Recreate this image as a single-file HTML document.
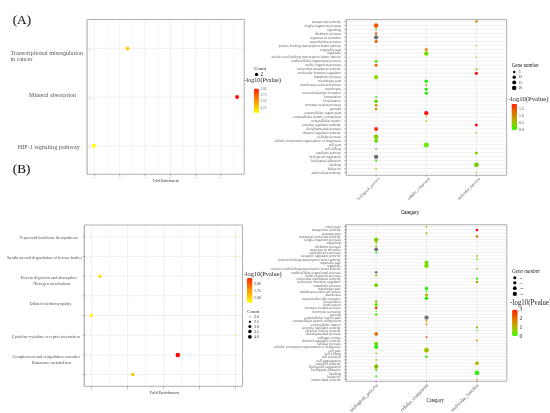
<!DOCTYPE html>
<html><head><meta charset="utf-8"><title>Figure</title>
<style>html,body{margin:0;padding:0;background:#fff;} svg{display:block;}</style>
</head><body>
<svg width="550" height="413" viewBox="0 0 550 413">
<rect width="550" height="413" fill="#fff"/>
<text x="12.70" y="24.00" font-size="12.9" text-anchor="start" fill="#111" font-family="'Liberation Serif', serif" textLength="18.40" lengthAdjust="spacingAndGlyphs" stroke="#222" stroke-width="0.1">(A)</text>
<text x="12.80" y="173.20" font-size="12.9" text-anchor="start" fill="#111" font-family="'Liberation Serif', serif" textLength="17.50" lengthAdjust="spacingAndGlyphs" stroke="#222" stroke-width="0.1">(B)</text>
<line x1="107.10" y1="19.50" x2="107.10" y2="174.30" stroke="#f1f1f1" stroke-width="0.6"/>
<line x1="132.43" y1="19.50" x2="132.43" y2="174.30" stroke="#f1f1f1" stroke-width="0.6"/>
<line x1="157.76" y1="19.50" x2="157.76" y2="174.30" stroke="#f1f1f1" stroke-width="0.6"/>
<line x1="183.09" y1="19.50" x2="183.09" y2="174.30" stroke="#f1f1f1" stroke-width="0.6"/>
<line x1="208.42" y1="19.50" x2="208.42" y2="174.30" stroke="#f1f1f1" stroke-width="0.6"/>
<line x1="233.75" y1="19.50" x2="233.75" y2="174.30" stroke="#f1f1f1" stroke-width="0.6"/>
<line x1="94.40" y1="19.50" x2="94.40" y2="174.30" stroke="#eaeaea" stroke-width="0.7"/>
<line x1="119.73" y1="19.50" x2="119.73" y2="174.30" stroke="#eaeaea" stroke-width="0.7"/>
<line x1="145.06" y1="19.50" x2="145.06" y2="174.30" stroke="#eaeaea" stroke-width="0.7"/>
<line x1="170.39" y1="19.50" x2="170.39" y2="174.30" stroke="#eaeaea" stroke-width="0.7"/>
<line x1="195.72" y1="19.50" x2="195.72" y2="174.30" stroke="#eaeaea" stroke-width="0.7"/>
<line x1="221.05" y1="19.50" x2="221.05" y2="174.30" stroke="#eaeaea" stroke-width="0.7"/>
<line x1="87.10" y1="48.40" x2="244.20" y2="48.40" stroke="#eaeaea" stroke-width="0.7"/>
<line x1="87.10" y1="97.00" x2="244.20" y2="97.00" stroke="#eaeaea" stroke-width="0.7"/>
<line x1="87.10" y1="145.90" x2="244.20" y2="145.90" stroke="#eaeaea" stroke-width="0.7"/>
<path d="M87.10 19.50 H244.20 V174.30 H87.10" fill="none" stroke="#a8a8a8" stroke-width="0.9"/>
<line x1="87.10" y1="19.05" x2="87.10" y2="174.75" stroke="#c8c8c8" stroke-width="1.7"/>
<line x1="89.20" y1="49.80" x2="90.60" y2="49.80" stroke="#888" stroke-width="0.5"/>
<line x1="89.20" y1="98.40" x2="90.60" y2="98.40" stroke="#888" stroke-width="0.5"/>
<line x1="89.20" y1="147.30" x2="90.60" y2="147.30" stroke="#888" stroke-width="0.5"/>
<line x1="94.40" y1="174.30" x2="94.40" y2="175.80" stroke="#777" stroke-width="0.6"/>
<text x="94.40" y="178.00" font-size="2.5" text-anchor="middle" fill="#888" font-family="'Liberation Serif', serif" >10</text>
<line x1="119.73" y1="174.30" x2="119.73" y2="175.80" stroke="#777" stroke-width="0.6"/>
<text x="119.73" y="178.00" font-size="2.5" text-anchor="middle" fill="#888" font-family="'Liberation Serif', serif" >20</text>
<line x1="145.06" y1="174.30" x2="145.06" y2="175.80" stroke="#777" stroke-width="0.6"/>
<text x="145.06" y="178.00" font-size="2.5" text-anchor="middle" fill="#888" font-family="'Liberation Serif', serif" >30</text>
<line x1="170.39" y1="174.30" x2="170.39" y2="175.80" stroke="#777" stroke-width="0.6"/>
<text x="170.39" y="178.00" font-size="2.5" text-anchor="middle" fill="#888" font-family="'Liberation Serif', serif" >40</text>
<line x1="195.72" y1="174.30" x2="195.72" y2="175.80" stroke="#777" stroke-width="0.6"/>
<text x="195.72" y="178.00" font-size="2.5" text-anchor="middle" fill="#888" font-family="'Liberation Serif', serif" >50</text>
<line x1="221.05" y1="174.30" x2="221.05" y2="175.80" stroke="#777" stroke-width="0.6"/>
<text x="221.05" y="178.00" font-size="2.5" text-anchor="middle" fill="#888" font-family="'Liberation Serif', serif" >60</text>
<text x="165.60" y="181.80" font-size="3.9" text-anchor="middle" fill="#333" font-family="'Liberation Serif', serif" textLength="26.20" lengthAdjust="spacingAndGlyphs" >Fold Enrichment</text>
<text x="10.40" y="54.50" font-size="6.6" text-anchor="start" fill="#555555" font-family="'Liberation Serif', serif" textLength="72.70" lengthAdjust="spacingAndGlyphs" >Transcriptional misregulation</text>
<text x="10.40" y="60.70" font-size="6.6" text-anchor="start" fill="#555555" font-family="'Liberation Serif', serif" textLength="22.10" lengthAdjust="spacingAndGlyphs" >in cancer</text>
<text x="29.00" y="96.80" font-size="6.6" text-anchor="start" fill="#555555" font-family="'Liberation Serif', serif" textLength="47.00" lengthAdjust="spacingAndGlyphs" >Mineral absorption</text>
<text x="17.80" y="148.60" font-size="6.6" text-anchor="start" fill="#555555" font-family="'Liberation Serif', serif" textLength="62.00" lengthAdjust="spacingAndGlyphs" >HIF-1 signaling pathway</text>
<circle cx="127.60" cy="48.40" r="1.85" fill="#ffcc00"/>
<circle cx="237.10" cy="97.00" r="1.95" fill="#ff0000"/>
<circle cx="93.90" cy="145.80" r="1.95" fill="#ffff00"/>
<text x="254.20" y="70.40" font-size="5.0" text-anchor="start" fill="#222" font-family="'Liberation Serif', serif" textLength="11.80" lengthAdjust="spacingAndGlyphs" >Count</text>
<circle cx="256.50" cy="74.50" r="1.70" fill="#000"/>
<text x="260.50" y="76.40" font-size="5.4" text-anchor="start" fill="#111" font-family="'Liberation Serif', serif" >2</text>
<text x="244.50" y="82.30" font-size="7.1" text-anchor="start" fill="#222" font-family="'Liberation Serif', serif" textLength="36.50" lengthAdjust="spacingAndGlyphs" >-log10(Pvalue)</text>
<defs><linearGradient id="gA" x1="0" y1="0" x2="0" y2="1"><stop offset="0" stop-color="#ff2000"/><stop offset="0.5" stop-color="#ff9000"/><stop offset="1" stop-color="#ffff00"/></linearGradient><linearGradient id="gB" x1="0" y1="0" x2="0" y2="1"><stop offset="0" stop-color="#ff2a00"/><stop offset="0.5" stop-color="#ff9a00"/><stop offset="1" stop-color="#ffff00"/></linearGradient><linearGradient id="gGO1" x1="0" y1="0" x2="0" y2="1"><stop offset="0" stop-color="#ff2000"/><stop offset="0.3" stop-color="#e86a00"/><stop offset="0.6" stop-color="#bfa800"/><stop offset="1" stop-color="#33ff00"/></linearGradient><linearGradient id="gGO2" x1="0" y1="0" x2="0" y2="1"><stop offset="0" stop-color="#ff2000"/><stop offset="0.33" stop-color="#e46a00"/><stop offset="0.55" stop-color="#c8a000"/><stop offset="0.78" stop-color="#94cc00"/><stop offset="1" stop-color="#33ff00"/></linearGradient></defs>
<rect x="254.0" y="88.7" width="4.9" height="24.2" rx="1.3" fill="url(#gA)"/>
<text x="260.80" y="89.70" font-size="3.1" text-anchor="start" fill="#555" font-family="'Liberation Serif', serif" >3.00</text>
<text x="260.80" y="96.00" font-size="3.1" text-anchor="start" fill="#555" font-family="'Liberation Serif', serif" >2.75</text>
<text x="260.80" y="102.30" font-size="3.1" text-anchor="start" fill="#555" font-family="'Liberation Serif', serif" >2.50</text>
<text x="260.80" y="108.60" font-size="3.1" text-anchor="start" fill="#555" font-family="'Liberation Serif', serif" >2.25</text>
<line x1="346.30" y1="21.40" x2="506.60" y2="21.40" stroke="#e4e4e4" stroke-width="0.55"/>
<line x1="346.30" y1="25.38" x2="506.60" y2="25.38" stroke="#e4e4e4" stroke-width="0.55"/>
<line x1="346.30" y1="29.36" x2="506.60" y2="29.36" stroke="#e4e4e4" stroke-width="0.55"/>
<line x1="346.30" y1="33.34" x2="506.60" y2="33.34" stroke="#e4e4e4" stroke-width="0.55"/>
<line x1="346.30" y1="37.32" x2="506.60" y2="37.32" stroke="#e4e4e4" stroke-width="0.55"/>
<line x1="346.30" y1="41.30" x2="506.60" y2="41.30" stroke="#e4e4e4" stroke-width="0.55"/>
<line x1="346.30" y1="45.28" x2="506.60" y2="45.28" stroke="#e4e4e4" stroke-width="0.55"/>
<line x1="346.30" y1="49.26" x2="506.60" y2="49.26" stroke="#e4e4e4" stroke-width="0.55"/>
<line x1="346.30" y1="53.24" x2="506.60" y2="53.24" stroke="#e4e4e4" stroke-width="0.55"/>
<line x1="346.30" y1="57.22" x2="506.60" y2="57.22" stroke="#e4e4e4" stroke-width="0.55"/>
<line x1="346.30" y1="61.20" x2="506.60" y2="61.20" stroke="#e4e4e4" stroke-width="0.55"/>
<line x1="346.30" y1="65.18" x2="506.60" y2="65.18" stroke="#e4e4e4" stroke-width="0.55"/>
<line x1="346.30" y1="69.16" x2="506.60" y2="69.16" stroke="#e4e4e4" stroke-width="0.55"/>
<line x1="346.30" y1="73.14" x2="506.60" y2="73.14" stroke="#e4e4e4" stroke-width="0.55"/>
<line x1="346.30" y1="77.12" x2="506.60" y2="77.12" stroke="#e4e4e4" stroke-width="0.55"/>
<line x1="346.30" y1="81.10" x2="506.60" y2="81.10" stroke="#e4e4e4" stroke-width="0.55"/>
<line x1="346.30" y1="85.08" x2="506.60" y2="85.08" stroke="#e4e4e4" stroke-width="0.55"/>
<line x1="346.30" y1="89.06" x2="506.60" y2="89.06" stroke="#e4e4e4" stroke-width="0.55"/>
<line x1="346.30" y1="93.04" x2="506.60" y2="93.04" stroke="#e4e4e4" stroke-width="0.55"/>
<line x1="346.30" y1="97.02" x2="506.60" y2="97.02" stroke="#e4e4e4" stroke-width="0.55"/>
<line x1="346.30" y1="101.00" x2="506.60" y2="101.00" stroke="#e4e4e4" stroke-width="0.55"/>
<line x1="346.30" y1="104.98" x2="506.60" y2="104.98" stroke="#e4e4e4" stroke-width="0.55"/>
<line x1="346.30" y1="108.96" x2="506.60" y2="108.96" stroke="#e4e4e4" stroke-width="0.55"/>
<line x1="346.30" y1="112.94" x2="506.60" y2="112.94" stroke="#e4e4e4" stroke-width="0.55"/>
<line x1="346.30" y1="116.92" x2="506.60" y2="116.92" stroke="#e4e4e4" stroke-width="0.55"/>
<line x1="346.30" y1="120.90" x2="506.60" y2="120.90" stroke="#e4e4e4" stroke-width="0.55"/>
<line x1="346.30" y1="124.88" x2="506.60" y2="124.88" stroke="#e4e4e4" stroke-width="0.55"/>
<line x1="346.30" y1="128.86" x2="506.60" y2="128.86" stroke="#e4e4e4" stroke-width="0.55"/>
<line x1="346.30" y1="132.84" x2="506.60" y2="132.84" stroke="#e4e4e4" stroke-width="0.55"/>
<line x1="346.30" y1="136.82" x2="506.60" y2="136.82" stroke="#e4e4e4" stroke-width="0.55"/>
<line x1="346.30" y1="140.80" x2="506.60" y2="140.80" stroke="#e4e4e4" stroke-width="0.55"/>
<line x1="346.30" y1="144.78" x2="506.60" y2="144.78" stroke="#e4e4e4" stroke-width="0.55"/>
<line x1="346.30" y1="148.76" x2="506.60" y2="148.76" stroke="#e4e4e4" stroke-width="0.55"/>
<line x1="346.30" y1="152.74" x2="506.60" y2="152.74" stroke="#e4e4e4" stroke-width="0.55"/>
<line x1="346.30" y1="156.72" x2="506.60" y2="156.72" stroke="#e4e4e4" stroke-width="0.55"/>
<line x1="346.30" y1="160.70" x2="506.60" y2="160.70" stroke="#e4e4e4" stroke-width="0.55"/>
<line x1="346.30" y1="164.68" x2="506.60" y2="164.68" stroke="#e4e4e4" stroke-width="0.55"/>
<line x1="346.30" y1="168.66" x2="506.60" y2="168.66" stroke="#e4e4e4" stroke-width="0.55"/>
<line x1="346.30" y1="172.64" x2="506.60" y2="172.64" stroke="#e4e4e4" stroke-width="0.55"/>
<line x1="376.10" y1="19.50" x2="376.10" y2="175.30" stroke="#e4e4e4" stroke-width="0.55"/>
<line x1="426.30" y1="19.50" x2="426.30" y2="175.30" stroke="#e4e4e4" stroke-width="0.55"/>
<line x1="476.40" y1="19.50" x2="476.40" y2="175.30" stroke="#e4e4e4" stroke-width="0.55"/>
<path d="M346.30 19.50 H506.60 V175.30 H346.30 Z" fill="none" stroke="#a8a8a8" stroke-width="0.9"/>
<line x1="346.30" y1="19.50" x2="346.30" y2="175.30" stroke="#b8b8b8" stroke-width="1.2"/>
<line x1="344.40" y1="21.40" x2="345.60" y2="21.40" stroke="#555" stroke-width="0.6"/>
<line x1="344.40" y1="25.38" x2="345.60" y2="25.38" stroke="#555" stroke-width="0.6"/>
<line x1="344.40" y1="29.36" x2="345.60" y2="29.36" stroke="#555" stroke-width="0.6"/>
<line x1="344.40" y1="33.34" x2="345.60" y2="33.34" stroke="#555" stroke-width="0.6"/>
<line x1="344.40" y1="37.32" x2="345.60" y2="37.32" stroke="#555" stroke-width="0.6"/>
<line x1="344.40" y1="41.30" x2="345.60" y2="41.30" stroke="#555" stroke-width="0.6"/>
<line x1="344.40" y1="45.28" x2="345.60" y2="45.28" stroke="#555" stroke-width="0.6"/>
<line x1="344.40" y1="49.26" x2="345.60" y2="49.26" stroke="#555" stroke-width="0.6"/>
<line x1="344.40" y1="53.24" x2="345.60" y2="53.24" stroke="#555" stroke-width="0.6"/>
<line x1="344.40" y1="57.22" x2="345.60" y2="57.22" stroke="#555" stroke-width="0.6"/>
<line x1="344.40" y1="61.20" x2="345.60" y2="61.20" stroke="#555" stroke-width="0.6"/>
<line x1="344.40" y1="65.18" x2="345.60" y2="65.18" stroke="#555" stroke-width="0.6"/>
<line x1="344.40" y1="69.16" x2="345.60" y2="69.16" stroke="#555" stroke-width="0.6"/>
<line x1="344.40" y1="73.14" x2="345.60" y2="73.14" stroke="#555" stroke-width="0.6"/>
<line x1="344.40" y1="77.12" x2="345.60" y2="77.12" stroke="#555" stroke-width="0.6"/>
<line x1="344.40" y1="81.10" x2="345.60" y2="81.10" stroke="#555" stroke-width="0.6"/>
<line x1="344.40" y1="85.08" x2="345.60" y2="85.08" stroke="#555" stroke-width="0.6"/>
<line x1="344.40" y1="89.06" x2="345.60" y2="89.06" stroke="#555" stroke-width="0.6"/>
<line x1="344.40" y1="93.04" x2="345.60" y2="93.04" stroke="#555" stroke-width="0.6"/>
<line x1="344.40" y1="97.02" x2="345.60" y2="97.02" stroke="#555" stroke-width="0.6"/>
<line x1="344.40" y1="101.00" x2="345.60" y2="101.00" stroke="#555" stroke-width="0.6"/>
<line x1="344.40" y1="104.98" x2="345.60" y2="104.98" stroke="#555" stroke-width="0.6"/>
<line x1="344.40" y1="108.96" x2="345.60" y2="108.96" stroke="#555" stroke-width="0.6"/>
<line x1="344.40" y1="112.94" x2="345.60" y2="112.94" stroke="#555" stroke-width="0.6"/>
<line x1="344.40" y1="116.92" x2="345.60" y2="116.92" stroke="#555" stroke-width="0.6"/>
<line x1="344.40" y1="120.90" x2="345.60" y2="120.90" stroke="#555" stroke-width="0.6"/>
<line x1="344.40" y1="124.88" x2="345.60" y2="124.88" stroke="#555" stroke-width="0.6"/>
<line x1="344.40" y1="128.86" x2="345.60" y2="128.86" stroke="#555" stroke-width="0.6"/>
<line x1="344.40" y1="132.84" x2="345.60" y2="132.84" stroke="#555" stroke-width="0.6"/>
<line x1="344.40" y1="136.82" x2="345.60" y2="136.82" stroke="#555" stroke-width="0.6"/>
<line x1="344.40" y1="140.80" x2="345.60" y2="140.80" stroke="#555" stroke-width="0.6"/>
<line x1="344.40" y1="144.78" x2="345.60" y2="144.78" stroke="#555" stroke-width="0.6"/>
<line x1="344.40" y1="148.76" x2="345.60" y2="148.76" stroke="#555" stroke-width="0.6"/>
<line x1="344.40" y1="152.74" x2="345.60" y2="152.74" stroke="#555" stroke-width="0.6"/>
<line x1="344.40" y1="156.72" x2="345.60" y2="156.72" stroke="#555" stroke-width="0.6"/>
<line x1="344.40" y1="160.70" x2="345.60" y2="160.70" stroke="#555" stroke-width="0.6"/>
<line x1="344.40" y1="164.68" x2="345.60" y2="164.68" stroke="#555" stroke-width="0.6"/>
<line x1="344.40" y1="168.66" x2="345.60" y2="168.66" stroke="#555" stroke-width="0.6"/>
<line x1="344.40" y1="172.64" x2="345.60" y2="172.64" stroke="#555" stroke-width="0.6"/>
<text x="341.00" y="22.65" font-size="3.8" text-anchor="end" fill="#5c5c5c" font-family="'Liberation Serif', serif" text-rendering="geometricPrecision">transporter activity</text>
<text x="341.00" y="26.63" font-size="3.8" text-anchor="end" fill="#5c5c5c" font-family="'Liberation Serif', serif" text-rendering="geometricPrecision">single-organism process</text>
<text x="341.00" y="30.61" font-size="3.8" text-anchor="end" fill="#5c5c5c" font-family="'Liberation Serif', serif" text-rendering="geometricPrecision">signaling</text>
<text x="341.00" y="34.59" font-size="3.8" text-anchor="end" fill="#5c5c5c" font-family="'Liberation Serif', serif" text-rendering="geometricPrecision">rhythmic process</text>
<text x="341.00" y="38.57" font-size="3.8" text-anchor="end" fill="#5c5c5c" font-family="'Liberation Serif', serif" text-rendering="geometricPrecision">response to stimulus</text>
<text x="341.00" y="42.55" font-size="3.8" text-anchor="end" fill="#5c5c5c" font-family="'Liberation Serif', serif" text-rendering="geometricPrecision">reproductive process</text>
<text x="341.00" y="46.53" font-size="3.8" text-anchor="end" fill="#5c5c5c" font-family="'Liberation Serif', serif" textLength="62.36" lengthAdjust="spacingAndGlyphs" text-rendering="geometricPrecision">protein binding transcription factor activity</text>
<text x="341.00" y="50.51" font-size="3.8" text-anchor="end" fill="#5c5c5c" font-family="'Liberation Serif', serif" text-rendering="geometricPrecision">organelle part</text>
<text x="341.00" y="54.49" font-size="3.8" text-anchor="end" fill="#5c5c5c" font-family="'Liberation Serif', serif" text-rendering="geometricPrecision">organelle</text>
<text x="341.00" y="58.47" font-size="3.8" text-anchor="end" fill="#5c5c5c" font-family="'Liberation Serif', serif" textLength="69.47" lengthAdjust="spacingAndGlyphs" text-rendering="geometricPrecision">nucleic acid binding transcription factor activity</text>
<text x="341.00" y="62.45" font-size="3.8" text-anchor="end" fill="#5c5c5c" font-family="'Liberation Serif', serif" text-rendering="geometricPrecision">multicellular organismal process</text>
<text x="341.00" y="66.43" font-size="3.8" text-anchor="end" fill="#5c5c5c" font-family="'Liberation Serif', serif" text-rendering="geometricPrecision">multi-organism process</text>
<text x="341.00" y="70.41" font-size="3.8" text-anchor="end" fill="#5c5c5c" font-family="'Liberation Serif', serif" text-rendering="geometricPrecision">molecular transducer activity</text>
<text x="341.00" y="74.39" font-size="3.8" text-anchor="end" fill="#5c5c5c" font-family="'Liberation Serif', serif" text-rendering="geometricPrecision">molecular function regulator</text>
<text x="341.00" y="78.37" font-size="3.8" text-anchor="end" fill="#5c5c5c" font-family="'Liberation Serif', serif" text-rendering="geometricPrecision">metabolic process</text>
<text x="341.00" y="82.35" font-size="3.8" text-anchor="end" fill="#5c5c5c" font-family="'Liberation Serif', serif" text-rendering="geometricPrecision">membrane part</text>
<text x="341.00" y="86.33" font-size="3.8" text-anchor="end" fill="#5c5c5c" font-family="'Liberation Serif', serif" text-rendering="geometricPrecision">membrane-enclosed lumen</text>
<text x="341.00" y="90.31" font-size="3.8" text-anchor="end" fill="#5c5c5c" font-family="'Liberation Serif', serif" text-rendering="geometricPrecision">membrane</text>
<text x="341.00" y="94.29" font-size="3.8" text-anchor="end" fill="#5c5c5c" font-family="'Liberation Serif', serif" text-rendering="geometricPrecision">macromolecular complex</text>
<text x="341.00" y="98.27" font-size="3.8" text-anchor="end" fill="#5c5c5c" font-family="'Liberation Serif', serif" text-rendering="geometricPrecision">locomotion</text>
<text x="341.00" y="102.25" font-size="3.8" text-anchor="end" fill="#5c5c5c" font-family="'Liberation Serif', serif" text-rendering="geometricPrecision">localization</text>
<text x="341.00" y="106.23" font-size="3.8" text-anchor="end" fill="#5c5c5c" font-family="'Liberation Serif', serif" text-rendering="geometricPrecision">immune system process</text>
<text x="341.00" y="110.21" font-size="3.8" text-anchor="end" fill="#5c5c5c" font-family="'Liberation Serif', serif" text-rendering="geometricPrecision">growth</text>
<text x="341.00" y="114.19" font-size="3.8" text-anchor="end" fill="#5c5c5c" font-family="'Liberation Serif', serif" text-rendering="geometricPrecision">extracellular region part</text>
<text x="341.00" y="118.17" font-size="3.8" text-anchor="end" fill="#5c5c5c" font-family="'Liberation Serif', serif" text-rendering="geometricPrecision">extracellular matrix component</text>
<text x="341.00" y="122.15" font-size="3.8" text-anchor="end" fill="#5c5c5c" font-family="'Liberation Serif', serif" text-rendering="geometricPrecision">extracellular matrix</text>
<text x="341.00" y="126.13" font-size="3.8" text-anchor="end" fill="#5c5c5c" font-family="'Liberation Serif', serif" text-rendering="geometricPrecision">enzyme regulator activity</text>
<text x="341.00" y="130.11" font-size="3.8" text-anchor="end" fill="#5c5c5c" font-family="'Liberation Serif', serif" text-rendering="geometricPrecision">developmental process</text>
<text x="341.00" y="134.09" font-size="3.8" text-anchor="end" fill="#5c5c5c" font-family="'Liberation Serif', serif" text-rendering="geometricPrecision">channel regulator activity</text>
<text x="341.00" y="138.07" font-size="3.8" text-anchor="end" fill="#5c5c5c" font-family="'Liberation Serif', serif" text-rendering="geometricPrecision">cellular process</text>
<text x="341.00" y="142.05" font-size="3.8" text-anchor="end" fill="#5c5c5c" font-family="'Liberation Serif', serif" textLength="66.74" lengthAdjust="spacingAndGlyphs" text-rendering="geometricPrecision">cellular component organization or biogenesis</text>
<text x="341.00" y="146.03" font-size="3.8" text-anchor="end" fill="#5c5c5c" font-family="'Liberation Serif', serif" text-rendering="geometricPrecision">cell part</text>
<text x="341.00" y="150.01" font-size="3.8" text-anchor="end" fill="#5c5c5c" font-family="'Liberation Serif', serif" text-rendering="geometricPrecision">cell killing</text>
<text x="341.00" y="153.99" font-size="3.8" text-anchor="end" fill="#5c5c5c" font-family="'Liberation Serif', serif" text-rendering="geometricPrecision">catalytic activity</text>
<text x="341.00" y="157.97" font-size="3.8" text-anchor="end" fill="#5c5c5c" font-family="'Liberation Serif', serif" text-rendering="geometricPrecision">biological regulation</text>
<text x="341.00" y="161.95" font-size="3.8" text-anchor="end" fill="#5c5c5c" font-family="'Liberation Serif', serif" text-rendering="geometricPrecision">biological adhesion</text>
<text x="341.00" y="165.93" font-size="3.8" text-anchor="end" fill="#5c5c5c" font-family="'Liberation Serif', serif" text-rendering="geometricPrecision">binding</text>
<text x="341.00" y="169.91" font-size="3.8" text-anchor="end" fill="#5c5c5c" font-family="'Liberation Serif', serif" text-rendering="geometricPrecision">behavior</text>
<text x="341.00" y="173.89" font-size="3.8" text-anchor="end" fill="#5c5c5c" font-family="'Liberation Serif', serif" text-rendering="geometricPrecision">antioxidant activity</text>
<circle cx="476.40" cy="21.55" r="1.25" fill="#dd8800"/>
<circle cx="376.10" cy="25.53" r="2.35" fill="#f05a00"/>
<circle cx="376.10" cy="29.51" r="0.95" fill="#99cc00"/>
<circle cx="376.10" cy="33.49" r="1.20" fill="#f06000"/>
<circle cx="376.10" cy="37.47" r="2.15" fill="#707070"/>
<circle cx="376.10" cy="41.45" r="1.50" fill="#f05000"/>
<circle cx="476.40" cy="45.43" r="0.75" fill="#99cc00"/>
<circle cx="426.30" cy="49.41" r="1.50" fill="#e08010"/>
<circle cx="426.30" cy="53.39" r="2.25" fill="#77dd00"/>
<circle cx="476.40" cy="57.37" r="0.75" fill="#99cc00"/>
<circle cx="376.10" cy="61.35" r="1.45" fill="#55dd00"/>
<circle cx="376.10" cy="65.33" r="1.50" fill="#f06010"/>
<circle cx="476.40" cy="69.31" r="1.10" fill="#99cc00"/>
<circle cx="476.40" cy="73.29" r="1.60" fill="#ff1010"/>
<circle cx="376.10" cy="77.27" r="2.15" fill="#88dd00"/>
<circle cx="426.30" cy="81.25" r="1.65" fill="#22ee00"/>
<circle cx="426.30" cy="85.23" r="0.90" fill="#99aa00"/>
<circle cx="426.30" cy="89.21" r="1.50" fill="#22ee00"/>
<circle cx="426.30" cy="93.19" r="1.65" fill="#22ee00"/>
<circle cx="376.10" cy="97.17" r="0.90" fill="#22dd00"/>
<circle cx="376.10" cy="101.15" r="1.75" fill="#55dd00"/>
<circle cx="376.10" cy="105.13" r="1.50" fill="#d4a010"/>
<circle cx="376.10" cy="109.11" r="1.35" fill="#d09020"/>
<circle cx="426.30" cy="113.09" r="2.20" fill="#ff1010"/>
<circle cx="426.30" cy="117.07" r="0.75" fill="#99cc00"/>
<circle cx="426.30" cy="121.05" r="0.85" fill="#99cc00"/>
<circle cx="476.40" cy="125.03" r="1.50" fill="#ff1010"/>
<circle cx="376.10" cy="129.01" r="2.00" fill="#f03010"/>
<circle cx="476.40" cy="132.99" r="0.85" fill="#99cc00"/>
<circle cx="376.10" cy="136.97" r="2.40" fill="#88cc00"/>
<circle cx="376.10" cy="140.95" r="1.90" fill="#66dd00"/>
<circle cx="426.30" cy="144.93" r="2.50" fill="#66ee00"/>
<circle cx="376.10" cy="148.91" r="0.85" fill="#d09020"/>
<circle cx="476.40" cy="152.89" r="1.50" fill="#88cc00"/>
<circle cx="376.10" cy="156.87" r="2.20" fill="#707070"/>
<circle cx="376.10" cy="160.85" r="1.00" fill="#33ee00"/>
<circle cx="476.40" cy="164.83" r="2.40" fill="#77cc00"/>
<circle cx="376.10" cy="168.81" r="0.90" fill="#99cc00"/>
<circle cx="476.40" cy="172.79" r="0.75" fill="#99cc00"/>
<line x1="376.10" y1="175.30" x2="376.10" y2="176.50" stroke="#555" stroke-width="0.6"/>
<line x1="426.30" y1="175.30" x2="426.30" y2="176.50" stroke="#555" stroke-width="0.6"/>
<line x1="476.40" y1="175.30" x2="476.40" y2="176.50" stroke="#555" stroke-width="0.6"/>
<text x="0" y="0" font-size="3.9" text-anchor="end" fill="#505050" font-family="'Liberation Serif', serif" textLength="30.40" lengthAdjust="spacingAndGlyphs" transform="translate(380.10,178.80) rotate(-45)">biological_process</text>
<text x="0" y="0" font-size="3.9" text-anchor="end" fill="#505050" font-family="'Liberation Serif', serif" textLength="30.40" lengthAdjust="spacingAndGlyphs" transform="translate(430.30,178.80) rotate(-45)">cellular_component</text>
<text x="0" y="0" font-size="3.9" text-anchor="end" fill="#505050" font-family="'Liberation Serif', serif" textLength="30.40" lengthAdjust="spacingAndGlyphs" transform="translate(480.40,178.80) rotate(-45)">molecular_function</text>
<text x="400.90" y="214.10" font-size="5.8" text-anchor="start" fill="#000" font-family="'Liberation Sans', sans-serif" textLength="18.00" lengthAdjust="spacingAndGlyphs" >Category</text>
<text x="511.70" y="67.40" font-size="5.2" text-anchor="start" fill="#222" font-family="'Liberation Serif', serif" textLength="27.30" lengthAdjust="spacingAndGlyphs" >Gene number</text>
<circle cx="514.20" cy="72.00" r="1.20" fill="#000"/>
<text x="518.80" y="73.20" font-size="3.6" text-anchor="start" fill="#222" font-family="'Liberation Serif', serif" >5</text>
<circle cx="514.20" cy="77.20" r="1.65" fill="#000"/>
<text x="518.80" y="78.40" font-size="3.6" text-anchor="start" fill="#222" font-family="'Liberation Serif', serif" >10</text>
<circle cx="514.20" cy="82.40" r="1.95" fill="#000"/>
<text x="518.80" y="83.60" font-size="3.6" text-anchor="start" fill="#222" font-family="'Liberation Serif', serif" >15</text>
<circle cx="514.20" cy="87.90" r="2.25" fill="#000"/>
<text x="518.80" y="89.10" font-size="3.6" text-anchor="start" fill="#222" font-family="'Liberation Serif', serif" >20</text>
<text x="508.50" y="100.70" font-size="7.0" text-anchor="start" fill="#222" font-family="'Liberation Serif', serif" textLength="39.90" lengthAdjust="spacingAndGlyphs" >-log10(Pvalue)</text>
<rect x="511.7" y="103.9" width="5.3" height="26.1" rx="1.3" fill="url(#gGO1)"/>
<text x="519.10" y="110.40" font-size="3.8" text-anchor="start" fill="#333" font-family="'Liberation Serif', serif" >1.5</text>
<text x="519.10" y="117.30" font-size="3.8" text-anchor="start" fill="#333" font-family="'Liberation Serif', serif" >1.0</text>
<text x="519.10" y="124.00" font-size="3.8" text-anchor="start" fill="#333" font-family="'Liberation Serif', serif" >0.5</text>
<text x="519.10" y="131.00" font-size="3.8" text-anchor="start" fill="#333" font-family="'Liberation Serif', serif" >0.0</text>
<line x1="91.60" y1="225.00" x2="91.60" y2="386.30" stroke="#eaeaea" stroke-width="0.7"/>
<line x1="109.57" y1="225.00" x2="109.57" y2="386.30" stroke="#efefef" stroke-width="0.6"/>
<line x1="127.55" y1="225.00" x2="127.55" y2="386.30" stroke="#eaeaea" stroke-width="0.7"/>
<line x1="145.53" y1="225.00" x2="145.53" y2="386.30" stroke="#efefef" stroke-width="0.6"/>
<line x1="163.50" y1="225.00" x2="163.50" y2="386.30" stroke="#eaeaea" stroke-width="0.7"/>
<line x1="181.47" y1="225.00" x2="181.47" y2="386.30" stroke="#efefef" stroke-width="0.6"/>
<line x1="199.45" y1="225.00" x2="199.45" y2="386.30" stroke="#eaeaea" stroke-width="0.7"/>
<line x1="217.43" y1="225.00" x2="217.43" y2="386.30" stroke="#efefef" stroke-width="0.6"/>
<line x1="235.40" y1="225.00" x2="235.40" y2="386.30" stroke="#eaeaea" stroke-width="0.7"/>
<line x1="84.40" y1="236.70" x2="242.50" y2="236.70" stroke="#eaeaea" stroke-width="0.7"/>
<line x1="84.40" y1="256.40" x2="242.50" y2="256.40" stroke="#eaeaea" stroke-width="0.7"/>
<line x1="84.40" y1="276.10" x2="242.50" y2="276.10" stroke="#eaeaea" stroke-width="0.7"/>
<line x1="84.40" y1="295.80" x2="242.50" y2="295.80" stroke="#eaeaea" stroke-width="0.7"/>
<line x1="84.40" y1="315.50" x2="242.50" y2="315.50" stroke="#eaeaea" stroke-width="0.7"/>
<line x1="84.40" y1="335.20" x2="242.50" y2="335.20" stroke="#eaeaea" stroke-width="0.7"/>
<line x1="84.40" y1="354.90" x2="242.50" y2="354.90" stroke="#eaeaea" stroke-width="0.7"/>
<line x1="84.40" y1="374.60" x2="242.50" y2="374.60" stroke="#eaeaea" stroke-width="0.7"/>
<path d="M84.40 225.00 H242.50 V386.30 H84.40 Z" fill="none" stroke="#a8a8a8" stroke-width="0.9"/>
<line x1="84.40" y1="225.00" x2="84.40" y2="386.30" stroke="#b4b4b4" stroke-width="1.3"/>
<line x1="83.20" y1="236.70" x2="84.40" y2="236.70" stroke="#555" stroke-width="0.6"/>
<line x1="83.20" y1="256.40" x2="84.40" y2="256.40" stroke="#555" stroke-width="0.6"/>
<line x1="83.20" y1="276.10" x2="84.40" y2="276.10" stroke="#555" stroke-width="0.6"/>
<line x1="83.20" y1="295.80" x2="84.40" y2="295.80" stroke="#555" stroke-width="0.6"/>
<line x1="83.20" y1="315.50" x2="84.40" y2="315.50" stroke="#555" stroke-width="0.6"/>
<line x1="83.20" y1="335.20" x2="84.40" y2="335.20" stroke="#555" stroke-width="0.6"/>
<line x1="83.20" y1="354.90" x2="84.40" y2="354.90" stroke="#555" stroke-width="0.6"/>
<line x1="83.20" y1="374.60" x2="84.40" y2="374.60" stroke="#555" stroke-width="0.6"/>
<line x1="91.60" y1="386.30" x2="91.60" y2="387.80" stroke="#555" stroke-width="0.6"/>
<text x="91.60" y="390.30" font-size="2.2" text-anchor="middle" fill="#777" font-family="'Liberation Serif', serif" >2</text>
<line x1="127.55" y1="386.30" x2="127.55" y2="387.80" stroke="#555" stroke-width="0.6"/>
<text x="127.55" y="390.30" font-size="2.2" text-anchor="middle" fill="#777" font-family="'Liberation Serif', serif" >4</text>
<line x1="163.50" y1="386.30" x2="163.50" y2="387.80" stroke="#555" stroke-width="0.6"/>
<text x="163.50" y="390.30" font-size="2.2" text-anchor="middle" fill="#777" font-family="'Liberation Serif', serif" >6</text>
<line x1="199.45" y1="386.30" x2="199.45" y2="387.80" stroke="#555" stroke-width="0.6"/>
<text x="199.45" y="390.30" font-size="2.2" text-anchor="middle" fill="#777" font-family="'Liberation Serif', serif" >8</text>
<line x1="235.40" y1="386.30" x2="235.40" y2="387.80" stroke="#555" stroke-width="0.6"/>
<text x="235.40" y="390.30" font-size="2.2" text-anchor="middle" fill="#777" font-family="'Liberation Serif', serif" >10</text>
<text x="164.30" y="394.00" font-size="4.3" text-anchor="middle" fill="#333" font-family="'Liberation Serif', serif" textLength="29.40" lengthAdjust="spacingAndGlyphs" >Fold Enrichment</text>
<text x="19.60" y="239.40" font-size="5.0" text-anchor="start" fill="#555" font-family="'Liberation Serif', serif" textLength="58.10" lengthAdjust="spacingAndGlyphs" >Terpenoid backbone biosynthesis</text>
<text x="6.90" y="259.40" font-size="5.0" text-anchor="start" fill="#555" font-family="'Liberation Serif', serif" textLength="75.20" lengthAdjust="spacingAndGlyphs" >Synthesis and degradation of ketone bodies</text>
<text x="20.50" y="279.00" font-size="5.0" text-anchor="start" fill="#555" font-family="'Liberation Serif', serif" textLength="56.20" lengthAdjust="spacingAndGlyphs" >Protein digestion and absorption</text>
<text x="33.20" y="285.20" font-size="5.0" text-anchor="start" fill="#555" font-family="'Liberation Serif', serif" textLength="37.30" lengthAdjust="spacingAndGlyphs" >Nitrogen metabolism</text>
<text x="29.60" y="304.80" font-size="5.0" text-anchor="start" fill="#555" font-family="'Liberation Serif', serif" textLength="41.80" lengthAdjust="spacingAndGlyphs" >Dilated cardiomyopathy</text>
<text x="11.80" y="338.00" font-size="5.0" text-anchor="start" fill="#555" font-family="'Liberation Serif', serif" textLength="68.10" lengthAdjust="spacingAndGlyphs" >Cytokine-cytokine receptor interaction</text>
<text x="12.40" y="357.50" font-size="5.0" text-anchor="start" fill="#555" font-family="'Liberation Serif', serif" textLength="67.50" lengthAdjust="spacingAndGlyphs" >Complement and coagulation cascades</text>
<text x="31.80" y="364.00" font-size="5.0" text-anchor="start" fill="#555" font-family="'Liberation Serif', serif" textLength="39.00" lengthAdjust="spacingAndGlyphs" >Butanoate metabolism</text>
<circle cx="100.00" cy="276.30" r="1.60" fill="#ffe000"/>
<circle cx="91.30" cy="315.50" r="1.65" fill="#ffee00"/>
<circle cx="177.80" cy="355.00" r="2.25" fill="#ff0000"/>
<circle cx="132.70" cy="374.60" r="1.75" fill="#ffc800"/>
<circle cx="235.40" cy="236.70" r="0.70" fill="#ffee33"/>
<circle cx="235.40" cy="256.40" r="0.70" fill="#ffee33"/>
<circle cx="235.40" cy="295.80" r="0.70" fill="#ffee33"/>
<circle cx="235.40" cy="335.20" r="0.70" fill="#ffee33"/>
<text x="243.70" y="276.00" font-size="7.1" text-anchor="start" fill="#222" font-family="'Liberation Serif', serif" textLength="38.00" lengthAdjust="spacingAndGlyphs" >-log10(Pvalue)</text>
<rect x="247.0" y="278.0" width="5.3" height="24.8" rx="1.3" fill="url(#gB)"/>
<text x="254.00" y="285.20" font-size="3.9" text-anchor="start" fill="#222" font-family="'Liberation Serif', serif" >2.00</text>
<text x="254.00" y="292.00" font-size="3.9" text-anchor="start" fill="#222" font-family="'Liberation Serif', serif" >1.75</text>
<text x="254.00" y="298.70" font-size="3.9" text-anchor="start" fill="#222" font-family="'Liberation Serif', serif" >1.50</text>
<text x="247.30" y="312.60" font-size="4.6" text-anchor="start" fill="#222" font-family="'Liberation Serif', serif" textLength="11.90" lengthAdjust="spacingAndGlyphs" >Count</text>
<circle cx="249.90" cy="316.70" r="0.50" fill="#000"/>
<text x="254.00" y="318.00" font-size="3.9" text-anchor="start" fill="#222" font-family="'Liberation Serif', serif" >2.0</text>
<circle cx="249.90" cy="321.80" r="1.15" fill="#000"/>
<text x="254.00" y="323.10" font-size="3.9" text-anchor="start" fill="#222" font-family="'Liberation Serif', serif" >2.5</text>
<circle cx="249.90" cy="326.60" r="1.50" fill="#000"/>
<text x="254.00" y="327.90" font-size="3.9" text-anchor="start" fill="#222" font-family="'Liberation Serif', serif" >3.0</text>
<circle cx="249.90" cy="331.60" r="1.75" fill="#000"/>
<text x="254.00" y="332.90" font-size="3.9" text-anchor="start" fill="#222" font-family="'Liberation Serif', serif" >3.5</text>
<circle cx="249.90" cy="336.80" r="1.90" fill="#000"/>
<text x="254.00" y="338.10" font-size="3.9" text-anchor="start" fill="#222" font-family="'Liberation Serif', serif" >4.0</text>
<line x1="345.80" y1="226.50" x2="506.80" y2="226.50" stroke="#e4e4e4" stroke-width="0.55"/>
<line x1="345.80" y1="229.75" x2="506.80" y2="229.75" stroke="#e4e4e4" stroke-width="0.55"/>
<line x1="345.80" y1="233.00" x2="506.80" y2="233.00" stroke="#e4e4e4" stroke-width="0.55"/>
<line x1="345.80" y1="236.25" x2="506.80" y2="236.25" stroke="#e4e4e4" stroke-width="0.55"/>
<line x1="345.80" y1="239.50" x2="506.80" y2="239.50" stroke="#e4e4e4" stroke-width="0.55"/>
<line x1="345.80" y1="242.75" x2="506.80" y2="242.75" stroke="#e4e4e4" stroke-width="0.55"/>
<line x1="345.80" y1="246.01" x2="506.80" y2="246.01" stroke="#e4e4e4" stroke-width="0.55"/>
<line x1="345.80" y1="249.26" x2="506.80" y2="249.26" stroke="#e4e4e4" stroke-width="0.55"/>
<line x1="345.80" y1="252.51" x2="506.80" y2="252.51" stroke="#e4e4e4" stroke-width="0.55"/>
<line x1="345.80" y1="255.76" x2="506.80" y2="255.76" stroke="#e4e4e4" stroke-width="0.55"/>
<line x1="345.80" y1="259.01" x2="506.80" y2="259.01" stroke="#e4e4e4" stroke-width="0.55"/>
<line x1="345.80" y1="262.26" x2="506.80" y2="262.26" stroke="#e4e4e4" stroke-width="0.55"/>
<line x1="345.80" y1="265.51" x2="506.80" y2="265.51" stroke="#e4e4e4" stroke-width="0.55"/>
<line x1="345.80" y1="268.76" x2="506.80" y2="268.76" stroke="#e4e4e4" stroke-width="0.55"/>
<line x1="345.80" y1="272.01" x2="506.80" y2="272.01" stroke="#e4e4e4" stroke-width="0.55"/>
<line x1="345.80" y1="275.26" x2="506.80" y2="275.26" stroke="#e4e4e4" stroke-width="0.55"/>
<line x1="345.80" y1="278.52" x2="506.80" y2="278.52" stroke="#e4e4e4" stroke-width="0.55"/>
<line x1="345.80" y1="281.77" x2="506.80" y2="281.77" stroke="#e4e4e4" stroke-width="0.55"/>
<line x1="345.80" y1="285.02" x2="506.80" y2="285.02" stroke="#e4e4e4" stroke-width="0.55"/>
<line x1="345.80" y1="288.27" x2="506.80" y2="288.27" stroke="#e4e4e4" stroke-width="0.55"/>
<line x1="345.80" y1="291.52" x2="506.80" y2="291.52" stroke="#e4e4e4" stroke-width="0.55"/>
<line x1="345.80" y1="294.77" x2="506.80" y2="294.77" stroke="#e4e4e4" stroke-width="0.55"/>
<line x1="345.80" y1="298.02" x2="506.80" y2="298.02" stroke="#e4e4e4" stroke-width="0.55"/>
<line x1="345.80" y1="301.27" x2="506.80" y2="301.27" stroke="#e4e4e4" stroke-width="0.55"/>
<line x1="345.80" y1="304.52" x2="506.80" y2="304.52" stroke="#e4e4e4" stroke-width="0.55"/>
<line x1="345.80" y1="307.77" x2="506.80" y2="307.77" stroke="#e4e4e4" stroke-width="0.55"/>
<line x1="345.80" y1="311.03" x2="506.80" y2="311.03" stroke="#e4e4e4" stroke-width="0.55"/>
<line x1="345.80" y1="314.28" x2="506.80" y2="314.28" stroke="#e4e4e4" stroke-width="0.55"/>
<line x1="345.80" y1="317.53" x2="506.80" y2="317.53" stroke="#e4e4e4" stroke-width="0.55"/>
<line x1="345.80" y1="320.78" x2="506.80" y2="320.78" stroke="#e4e4e4" stroke-width="0.55"/>
<line x1="345.80" y1="324.03" x2="506.80" y2="324.03" stroke="#e4e4e4" stroke-width="0.55"/>
<line x1="345.80" y1="327.28" x2="506.80" y2="327.28" stroke="#e4e4e4" stroke-width="0.55"/>
<line x1="345.80" y1="330.53" x2="506.80" y2="330.53" stroke="#e4e4e4" stroke-width="0.55"/>
<line x1="345.80" y1="333.78" x2="506.80" y2="333.78" stroke="#e4e4e4" stroke-width="0.55"/>
<line x1="345.80" y1="337.03" x2="506.80" y2="337.03" stroke="#e4e4e4" stroke-width="0.55"/>
<line x1="345.80" y1="340.28" x2="506.80" y2="340.28" stroke="#e4e4e4" stroke-width="0.55"/>
<line x1="345.80" y1="343.54" x2="506.80" y2="343.54" stroke="#e4e4e4" stroke-width="0.55"/>
<line x1="345.80" y1="346.79" x2="506.80" y2="346.79" stroke="#e4e4e4" stroke-width="0.55"/>
<line x1="345.80" y1="350.04" x2="506.80" y2="350.04" stroke="#e4e4e4" stroke-width="0.55"/>
<line x1="345.80" y1="353.29" x2="506.80" y2="353.29" stroke="#e4e4e4" stroke-width="0.55"/>
<line x1="345.80" y1="356.54" x2="506.80" y2="356.54" stroke="#e4e4e4" stroke-width="0.55"/>
<line x1="345.80" y1="359.79" x2="506.80" y2="359.79" stroke="#e4e4e4" stroke-width="0.55"/>
<line x1="345.80" y1="363.04" x2="506.80" y2="363.04" stroke="#e4e4e4" stroke-width="0.55"/>
<line x1="345.80" y1="366.29" x2="506.80" y2="366.29" stroke="#e4e4e4" stroke-width="0.55"/>
<line x1="345.80" y1="369.54" x2="506.80" y2="369.54" stroke="#e4e4e4" stroke-width="0.55"/>
<line x1="345.80" y1="372.79" x2="506.80" y2="372.79" stroke="#e4e4e4" stroke-width="0.55"/>
<line x1="345.80" y1="376.05" x2="506.80" y2="376.05" stroke="#e4e4e4" stroke-width="0.55"/>
<line x1="345.80" y1="379.30" x2="506.80" y2="379.30" stroke="#e4e4e4" stroke-width="0.55"/>
<line x1="376.20" y1="224.70" x2="376.20" y2="381.30" stroke="#e4e4e4" stroke-width="0.55"/>
<line x1="426.50" y1="224.70" x2="426.50" y2="381.30" stroke="#e4e4e4" stroke-width="0.55"/>
<line x1="477.00" y1="224.70" x2="477.00" y2="381.30" stroke="#e4e4e4" stroke-width="0.55"/>
<path d="M345.80 224.70 H506.80 V381.30 H345.80 Z" fill="none" stroke="#a8a8a8" stroke-width="0.9"/>
<line x1="345.80" y1="224.70" x2="345.80" y2="381.30" stroke="#b8b8b8" stroke-width="1.2"/>
<line x1="344.40" y1="226.50" x2="345.60" y2="226.50" stroke="#555" stroke-width="0.6"/>
<line x1="344.40" y1="229.75" x2="345.60" y2="229.75" stroke="#555" stroke-width="0.6"/>
<line x1="344.40" y1="233.00" x2="345.60" y2="233.00" stroke="#555" stroke-width="0.6"/>
<line x1="344.40" y1="236.25" x2="345.60" y2="236.25" stroke="#555" stroke-width="0.6"/>
<line x1="344.40" y1="239.50" x2="345.60" y2="239.50" stroke="#555" stroke-width="0.6"/>
<line x1="344.40" y1="242.75" x2="345.60" y2="242.75" stroke="#555" stroke-width="0.6"/>
<line x1="344.40" y1="246.01" x2="345.60" y2="246.01" stroke="#555" stroke-width="0.6"/>
<line x1="344.40" y1="249.26" x2="345.60" y2="249.26" stroke="#555" stroke-width="0.6"/>
<line x1="344.40" y1="252.51" x2="345.60" y2="252.51" stroke="#555" stroke-width="0.6"/>
<line x1="344.40" y1="255.76" x2="345.60" y2="255.76" stroke="#555" stroke-width="0.6"/>
<line x1="344.40" y1="259.01" x2="345.60" y2="259.01" stroke="#555" stroke-width="0.6"/>
<line x1="344.40" y1="262.26" x2="345.60" y2="262.26" stroke="#555" stroke-width="0.6"/>
<line x1="344.40" y1="265.51" x2="345.60" y2="265.51" stroke="#555" stroke-width="0.6"/>
<line x1="344.40" y1="268.76" x2="345.60" y2="268.76" stroke="#555" stroke-width="0.6"/>
<line x1="344.40" y1="272.01" x2="345.60" y2="272.01" stroke="#555" stroke-width="0.6"/>
<line x1="344.40" y1="275.26" x2="345.60" y2="275.26" stroke="#555" stroke-width="0.6"/>
<line x1="344.40" y1="278.52" x2="345.60" y2="278.52" stroke="#555" stroke-width="0.6"/>
<line x1="344.40" y1="281.77" x2="345.60" y2="281.77" stroke="#555" stroke-width="0.6"/>
<line x1="344.40" y1="285.02" x2="345.60" y2="285.02" stroke="#555" stroke-width="0.6"/>
<line x1="344.40" y1="288.27" x2="345.60" y2="288.27" stroke="#555" stroke-width="0.6"/>
<line x1="344.40" y1="291.52" x2="345.60" y2="291.52" stroke="#555" stroke-width="0.6"/>
<line x1="344.40" y1="294.77" x2="345.60" y2="294.77" stroke="#555" stroke-width="0.6"/>
<line x1="344.40" y1="298.02" x2="345.60" y2="298.02" stroke="#555" stroke-width="0.6"/>
<line x1="344.40" y1="301.27" x2="345.60" y2="301.27" stroke="#555" stroke-width="0.6"/>
<line x1="344.40" y1="304.52" x2="345.60" y2="304.52" stroke="#555" stroke-width="0.6"/>
<line x1="344.40" y1="307.77" x2="345.60" y2="307.77" stroke="#555" stroke-width="0.6"/>
<line x1="344.40" y1="311.03" x2="345.60" y2="311.03" stroke="#555" stroke-width="0.6"/>
<line x1="344.40" y1="314.28" x2="345.60" y2="314.28" stroke="#555" stroke-width="0.6"/>
<line x1="344.40" y1="317.53" x2="345.60" y2="317.53" stroke="#555" stroke-width="0.6"/>
<line x1="344.40" y1="320.78" x2="345.60" y2="320.78" stroke="#555" stroke-width="0.6"/>
<line x1="344.40" y1="324.03" x2="345.60" y2="324.03" stroke="#555" stroke-width="0.6"/>
<line x1="344.40" y1="327.28" x2="345.60" y2="327.28" stroke="#555" stroke-width="0.6"/>
<line x1="344.40" y1="330.53" x2="345.60" y2="330.53" stroke="#555" stroke-width="0.6"/>
<line x1="344.40" y1="333.78" x2="345.60" y2="333.78" stroke="#555" stroke-width="0.6"/>
<line x1="344.40" y1="337.03" x2="345.60" y2="337.03" stroke="#555" stroke-width="0.6"/>
<line x1="344.40" y1="340.28" x2="345.60" y2="340.28" stroke="#555" stroke-width="0.6"/>
<line x1="344.40" y1="343.54" x2="345.60" y2="343.54" stroke="#555" stroke-width="0.6"/>
<line x1="344.40" y1="346.79" x2="345.60" y2="346.79" stroke="#555" stroke-width="0.6"/>
<line x1="344.40" y1="350.04" x2="345.60" y2="350.04" stroke="#555" stroke-width="0.6"/>
<line x1="344.40" y1="353.29" x2="345.60" y2="353.29" stroke="#555" stroke-width="0.6"/>
<line x1="344.40" y1="356.54" x2="345.60" y2="356.54" stroke="#555" stroke-width="0.6"/>
<line x1="344.40" y1="359.79" x2="345.60" y2="359.79" stroke="#555" stroke-width="0.6"/>
<line x1="344.40" y1="363.04" x2="345.60" y2="363.04" stroke="#555" stroke-width="0.6"/>
<line x1="344.40" y1="366.29" x2="345.60" y2="366.29" stroke="#555" stroke-width="0.6"/>
<line x1="344.40" y1="369.54" x2="345.60" y2="369.54" stroke="#555" stroke-width="0.6"/>
<line x1="344.40" y1="372.79" x2="345.60" y2="372.79" stroke="#555" stroke-width="0.6"/>
<line x1="344.40" y1="376.05" x2="345.60" y2="376.05" stroke="#555" stroke-width="0.6"/>
<line x1="344.40" y1="379.30" x2="345.60" y2="379.30" stroke="#555" stroke-width="0.6"/>
<text x="340.70" y="228.20" font-size="3.8" text-anchor="end" fill="#5c5c5c" font-family="'Liberation Serif', serif" text-rendering="geometricPrecision">virion part</text>
<text x="340.70" y="231.45" font-size="3.8" text-anchor="end" fill="#5c5c5c" font-family="'Liberation Serif', serif" text-rendering="geometricPrecision">transporter activity</text>
<text x="340.70" y="234.71" font-size="3.8" text-anchor="end" fill="#5c5c5c" font-family="'Liberation Serif', serif" text-rendering="geometricPrecision">synapse part</text>
<text x="340.70" y="237.96" font-size="3.8" text-anchor="end" fill="#5c5c5c" font-family="'Liberation Serif', serif" text-rendering="geometricPrecision">structural molecule activity</text>
<text x="340.70" y="241.21" font-size="3.8" text-anchor="end" fill="#5c5c5c" font-family="'Liberation Serif', serif" text-rendering="geometricPrecision">single-organism process</text>
<text x="340.70" y="244.46" font-size="3.8" text-anchor="end" fill="#5c5c5c" font-family="'Liberation Serif', serif" text-rendering="geometricPrecision">signaling</text>
<text x="340.70" y="247.71" font-size="3.8" text-anchor="end" fill="#5c5c5c" font-family="'Liberation Serif', serif" text-rendering="geometricPrecision">rhythmic process</text>
<text x="340.70" y="250.96" font-size="3.8" text-anchor="end" fill="#5c5c5c" font-family="'Liberation Serif', serif" text-rendering="geometricPrecision">response to stimulus</text>
<text x="340.70" y="254.21" font-size="3.8" text-anchor="end" fill="#5c5c5c" font-family="'Liberation Serif', serif" text-rendering="geometricPrecision">reproductive process</text>
<text x="340.70" y="257.46" font-size="3.8" text-anchor="end" fill="#5c5c5c" font-family="'Liberation Serif', serif" text-rendering="geometricPrecision">receptor regulator activity</text>
<text x="340.70" y="260.71" font-size="3.8" text-anchor="end" fill="#5c5c5c" font-family="'Liberation Serif', serif" textLength="62.36" lengthAdjust="spacingAndGlyphs" text-rendering="geometricPrecision">protein binding transcription factor activity</text>
<text x="340.70" y="263.96" font-size="3.8" text-anchor="end" fill="#5c5c5c" font-family="'Liberation Serif', serif" text-rendering="geometricPrecision">organelle part</text>
<text x="340.70" y="267.22" font-size="3.8" text-anchor="end" fill="#5c5c5c" font-family="'Liberation Serif', serif" text-rendering="geometricPrecision">organelle</text>
<text x="340.70" y="270.47" font-size="3.8" text-anchor="end" fill="#5c5c5c" font-family="'Liberation Serif', serif" textLength="69.47" lengthAdjust="spacingAndGlyphs" text-rendering="geometricPrecision">nucleic acid binding transcription factor activity</text>
<text x="340.70" y="273.72" font-size="3.8" text-anchor="end" fill="#5c5c5c" font-family="'Liberation Serif', serif" text-rendering="geometricPrecision">multicellular organismal process</text>
<text x="340.70" y="276.97" font-size="3.8" text-anchor="end" fill="#5c5c5c" font-family="'Liberation Serif', serif" text-rendering="geometricPrecision">multi-organism process</text>
<text x="340.70" y="280.22" font-size="3.8" text-anchor="end" fill="#5c5c5c" font-family="'Liberation Serif', serif" text-rendering="geometricPrecision">molecular transducer activity</text>
<text x="340.70" y="283.47" font-size="3.8" text-anchor="end" fill="#5c5c5c" font-family="'Liberation Serif', serif" text-rendering="geometricPrecision">molecular function regulator</text>
<text x="340.70" y="286.72" font-size="3.8" text-anchor="end" fill="#5c5c5c" font-family="'Liberation Serif', serif" text-rendering="geometricPrecision">metabolic process</text>
<text x="340.70" y="289.97" font-size="3.8" text-anchor="end" fill="#5c5c5c" font-family="'Liberation Serif', serif" text-rendering="geometricPrecision">membrane part</text>
<text x="340.70" y="293.22" font-size="3.8" text-anchor="end" fill="#5c5c5c" font-family="'Liberation Serif', serif" text-rendering="geometricPrecision">membrane-enclosed lumen</text>
<text x="340.70" y="296.48" font-size="3.8" text-anchor="end" fill="#5c5c5c" font-family="'Liberation Serif', serif" text-rendering="geometricPrecision">membrane</text>
<text x="340.70" y="299.73" font-size="3.8" text-anchor="end" fill="#5c5c5c" font-family="'Liberation Serif', serif" text-rendering="geometricPrecision">macromolecular complex</text>
<text x="340.70" y="302.98" font-size="3.8" text-anchor="end" fill="#5c5c5c" font-family="'Liberation Serif', serif" text-rendering="geometricPrecision">locomotion</text>
<text x="340.70" y="306.23" font-size="3.8" text-anchor="end" fill="#5c5c5c" font-family="'Liberation Serif', serif" text-rendering="geometricPrecision">localization</text>
<text x="340.70" y="309.48" font-size="3.8" text-anchor="end" fill="#5c5c5c" font-family="'Liberation Serif', serif" text-rendering="geometricPrecision">immune system process</text>
<text x="340.70" y="312.73" font-size="3.8" text-anchor="end" fill="#5c5c5c" font-family="'Liberation Serif', serif" text-rendering="geometricPrecision">hormone secretion</text>
<text x="340.70" y="315.98" font-size="3.8" text-anchor="end" fill="#5c5c5c" font-family="'Liberation Serif', serif" text-rendering="geometricPrecision">growth</text>
<text x="340.70" y="319.23" font-size="3.8" text-anchor="end" fill="#5c5c5c" font-family="'Liberation Serif', serif" text-rendering="geometricPrecision">extracellular region part</text>
<text x="340.70" y="322.48" font-size="3.8" text-anchor="end" fill="#5c5c5c" font-family="'Liberation Serif', serif" text-rendering="geometricPrecision">extracellular matrix component</text>
<text x="340.70" y="325.73" font-size="3.8" text-anchor="end" fill="#5c5c5c" font-family="'Liberation Serif', serif" text-rendering="geometricPrecision">extracellular matrix</text>
<text x="340.70" y="328.99" font-size="3.8" text-anchor="end" fill="#5c5c5c" font-family="'Liberation Serif', serif" text-rendering="geometricPrecision">enzyme regulator activity</text>
<text x="340.70" y="332.24" font-size="3.8" text-anchor="end" fill="#5c5c5c" font-family="'Liberation Serif', serif" text-rendering="geometricPrecision">electron carrier activity</text>
<text x="340.70" y="335.49" font-size="3.8" text-anchor="end" fill="#5c5c5c" font-family="'Liberation Serif', serif" text-rendering="geometricPrecision">developmental process</text>
<text x="340.70" y="338.74" font-size="3.8" text-anchor="end" fill="#5c5c5c" font-family="'Liberation Serif', serif" text-rendering="geometricPrecision">collagen trimer</text>
<text x="340.70" y="341.99" font-size="3.8" text-anchor="end" fill="#5c5c5c" font-family="'Liberation Serif', serif" text-rendering="geometricPrecision">channel regulator activity</text>
<text x="340.70" y="345.24" font-size="3.8" text-anchor="end" fill="#5c5c5c" font-family="'Liberation Serif', serif" text-rendering="geometricPrecision">cellular process</text>
<text x="340.70" y="348.49" font-size="3.8" text-anchor="end" fill="#5c5c5c" font-family="'Liberation Serif', serif" textLength="66.74" lengthAdjust="spacingAndGlyphs" text-rendering="geometricPrecision">cellular component organization or biogenesis</text>
<text x="340.70" y="351.74" font-size="3.8" text-anchor="end" fill="#5c5c5c" font-family="'Liberation Serif', serif" text-rendering="geometricPrecision">cell part</text>
<text x="340.70" y="354.99" font-size="3.8" text-anchor="end" fill="#5c5c5c" font-family="'Liberation Serif', serif" text-rendering="geometricPrecision">cell killing</text>
<text x="340.70" y="358.24" font-size="3.8" text-anchor="end" fill="#5c5c5c" font-family="'Liberation Serif', serif" text-rendering="geometricPrecision">cell junction</text>
<text x="340.70" y="361.50" font-size="3.8" text-anchor="end" fill="#5c5c5c" font-family="'Liberation Serif', serif" text-rendering="geometricPrecision">cell aggregation</text>
<text x="340.70" y="364.75" font-size="3.8" text-anchor="end" fill="#5c5c5c" font-family="'Liberation Serif', serif" text-rendering="geometricPrecision">catalytic activity</text>
<text x="340.70" y="368.00" font-size="3.8" text-anchor="end" fill="#5c5c5c" font-family="'Liberation Serif', serif" text-rendering="geometricPrecision">biological regulation</text>
<text x="340.70" y="371.25" font-size="3.8" text-anchor="end" fill="#5c5c5c" font-family="'Liberation Serif', serif" text-rendering="geometricPrecision">biological adhesion</text>
<text x="340.70" y="374.50" font-size="3.8" text-anchor="end" fill="#5c5c5c" font-family="'Liberation Serif', serif" text-rendering="geometricPrecision">binding</text>
<text x="340.70" y="377.75" font-size="3.8" text-anchor="end" fill="#5c5c5c" font-family="'Liberation Serif', serif" text-rendering="geometricPrecision">behavior</text>
<text x="340.70" y="381.00" font-size="3.8" text-anchor="end" fill="#5c5c5c" font-family="'Liberation Serif', serif" text-rendering="geometricPrecision">antioxidant activity</text>
<circle cx="426.50" cy="226.65" r="0.90" fill="#99cc00"/>
<circle cx="477.00" cy="229.90" r="1.25" fill="#ee0000"/>
<circle cx="426.50" cy="233.15" r="1.00" fill="#88cc00"/>
<circle cx="477.00" cy="236.40" r="1.25" fill="#dd7700"/>
<circle cx="376.20" cy="239.65" r="2.25" fill="#88cc00"/>
<circle cx="376.20" cy="242.91" r="0.90" fill="#99cc00"/>
<circle cx="376.20" cy="246.16" r="1.00" fill="#aabb00"/>
<circle cx="376.20" cy="249.41" r="1.95" fill="#707080"/>
<circle cx="376.20" cy="252.66" r="1.00" fill="#22ee00"/>
<circle cx="477.00" cy="255.91" r="0.90" fill="#aabb00"/>
<circle cx="477.00" cy="259.16" r="0.90" fill="#66ee00"/>
<circle cx="426.50" cy="262.41" r="2.00" fill="#77dd00"/>
<circle cx="426.50" cy="265.66" r="2.25" fill="#77dd00"/>
<circle cx="477.00" cy="268.91" r="0.90" fill="#aacc22"/>
<circle cx="376.20" cy="272.16" r="1.25" fill="#707070"/>
<circle cx="376.20" cy="275.41" r="1.10" fill="#88cc00"/>
<circle cx="477.00" cy="278.67" r="1.10" fill="#22ee00"/>
<circle cx="477.00" cy="281.92" r="1.25" fill="#aaaa00"/>
<circle cx="376.20" cy="285.17" r="1.90" fill="#77cc00"/>
<circle cx="426.50" cy="288.42" r="1.75" fill="#22ee00"/>
<circle cx="426.50" cy="291.67" r="0.90" fill="#44ee00"/>
<circle cx="426.50" cy="294.92" r="1.50" fill="#bbaa00"/>
<circle cx="426.50" cy="298.17" r="1.75" fill="#22ee00"/>
<circle cx="376.20" cy="301.42" r="1.25" fill="#99bb00"/>
<circle cx="376.20" cy="304.67" r="1.60" fill="#55ee00"/>
<circle cx="376.20" cy="307.92" r="1.40" fill="#e05000"/>
<circle cx="376.20" cy="311.18" r="0.75" fill="#44ee00"/>
<circle cx="376.20" cy="314.43" r="1.25" fill="#44ee00"/>
<circle cx="426.50" cy="317.68" r="2.10" fill="#707070"/>
<circle cx="426.50" cy="320.93" r="0.90" fill="#dd9900"/>
<circle cx="426.50" cy="324.18" r="1.00" fill="#ccaa00"/>
<circle cx="477.00" cy="327.43" r="1.10" fill="#99bb00"/>
<circle cx="477.00" cy="330.68" r="0.90" fill="#66ee44"/>
<circle cx="376.20" cy="333.93" r="1.90" fill="#e07010"/>
<circle cx="426.50" cy="337.18" r="0.90" fill="#ee4400"/>
<circle cx="477.00" cy="340.43" r="1.00" fill="#dd9900"/>
<circle cx="376.20" cy="343.69" r="2.00" fill="#66dd00"/>
<circle cx="376.20" cy="346.94" r="2.00" fill="#22ee00"/>
<circle cx="426.50" cy="350.19" r="2.40" fill="#a0c000"/>
<circle cx="376.20" cy="353.44" r="0.90" fill="#aabb00"/>
<circle cx="426.50" cy="356.69" r="1.25" fill="#22ee00"/>
<circle cx="376.20" cy="359.94" r="0.90" fill="#aabb00"/>
<circle cx="477.00" cy="363.19" r="1.90" fill="#b5b500"/>
<circle cx="376.20" cy="366.44" r="2.10" fill="#88bb00"/>
<circle cx="376.20" cy="369.69" r="1.25" fill="#66dd00"/>
<circle cx="477.00" cy="372.94" r="2.40" fill="#33ee11"/>
<circle cx="376.20" cy="376.20" r="1.00" fill="#22ee00"/>
<circle cx="477.00" cy="379.45" r="0.75" fill="#dd7700"/>
<line x1="376.20" y1="381.30" x2="376.20" y2="382.50" stroke="#555" stroke-width="0.6"/>
<line x1="426.50" y1="381.30" x2="426.50" y2="382.50" stroke="#555" stroke-width="0.6"/>
<line x1="477.00" y1="381.30" x2="477.00" y2="382.50" stroke="#555" stroke-width="0.6"/>
<text x="0" y="0" font-size="4.8" text-anchor="end" fill="#505050" font-family="'Liberation Serif', serif" textLength="37.60" lengthAdjust="spacingAndGlyphs" transform="translate(378.30,385.50) rotate(-45)">biological_process</text>
<text x="0" y="0" font-size="4.8" text-anchor="end" fill="#505050" font-family="'Liberation Serif', serif" textLength="37.60" lengthAdjust="spacingAndGlyphs" transform="translate(428.60,385.50) rotate(-45)">cellular_component</text>
<text x="0" y="0" font-size="4.8" text-anchor="end" fill="#505050" font-family="'Liberation Serif', serif" textLength="37.60" lengthAdjust="spacingAndGlyphs" transform="translate(479.10,385.50) rotate(-45)">molecular_function</text>
<text x="426.40" y="402.00" font-size="5.6" text-anchor="start" fill="#111" font-family="'Liberation Serif', serif" textLength="17.40" lengthAdjust="spacingAndGlyphs" >Category</text>
<text x="511.90" y="273.30" font-size="5.2" text-anchor="start" fill="#222" font-family="'Liberation Serif', serif" textLength="28.10" lengthAdjust="spacingAndGlyphs" font-style="italic">Gene number</text>
<circle cx="514.80" cy="277.80" r="1.50" fill="#000"/>
<text x="519.40" y="278.70" font-size="2.6" text-anchor="start" fill="#333" font-family="'Liberation Serif', serif" >40</text>
<circle cx="514.80" cy="282.80" r="1.65" fill="#000"/>
<text x="519.40" y="283.70" font-size="2.6" text-anchor="start" fill="#333" font-family="'Liberation Serif', serif" >80</text>
<circle cx="514.80" cy="288.20" r="1.85" fill="#000"/>
<text x="519.40" y="289.10" font-size="2.6" text-anchor="start" fill="#333" font-family="'Liberation Serif', serif" >120</text>
<circle cx="514.80" cy="293.90" r="2.10" fill="#000"/>
<text x="519.40" y="294.80" font-size="2.6" text-anchor="start" fill="#333" font-family="'Liberation Serif', serif" >160</text>
<text x="510.30" y="304.60" font-size="7.2" text-anchor="start" fill="#222" font-family="'Liberation Serif', serif" textLength="41.00" lengthAdjust="spacingAndGlyphs" >-log10(Pvalue)</text>
<rect x="512.1" y="309.7" width="5.5" height="26.4" rx="1.6" fill="url(#gGO2)"/>
<text x="519.50" y="310.65" font-size="5.6" text-anchor="start" fill="#222" font-family="'Liberation Serif', serif" >3</text>
<text x="519.50" y="320.15" font-size="5.6" text-anchor="start" fill="#222" font-family="'Liberation Serif', serif" >2</text>
<text x="519.50" y="329.35" font-size="5.6" text-anchor="start" fill="#222" font-family="'Liberation Serif', serif" >1</text>
<text x="519.50" y="337.75" font-size="5.6" text-anchor="start" fill="#222" font-family="'Liberation Serif', serif" >0</text>
</svg>
</body></html>
